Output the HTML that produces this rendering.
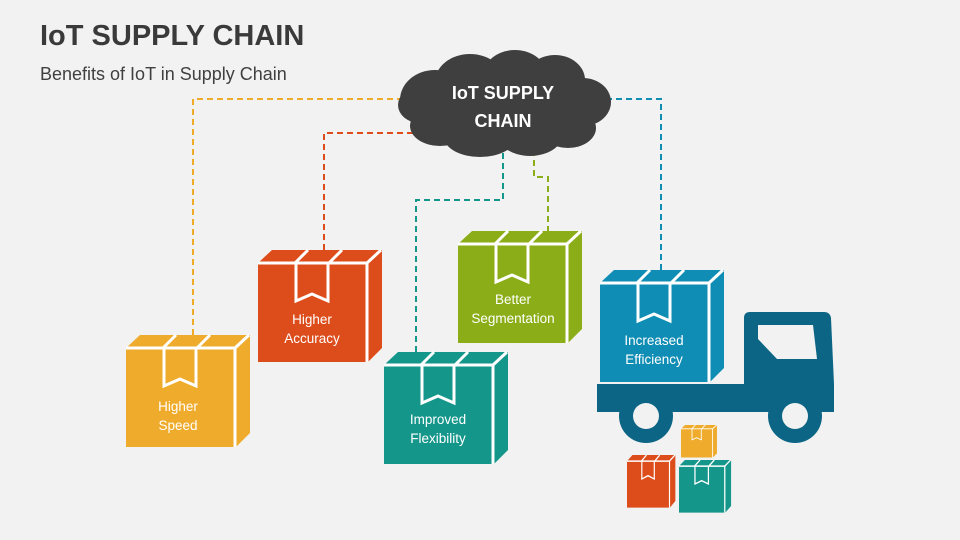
<!DOCTYPE html>
<html><head><meta charset="utf-8"><style>
body{margin:0;background:#f2f2f2;}
svg{display:block;}
.t{font-family:"Liberation Sans",sans-serif;}
</style></head><body>
<svg width="960" height="540" viewBox="0 0 960 540" xmlns="http://www.w3.org/2000/svg">
<defs>
<g id="box">
<polygon points="0,13 14,0 124,0 124,98 110,112 0,112"/>
<g fill="none" stroke="#fff" stroke-width="3">
<polyline points="0,13 109,13 109,112"/>
<line x1="109" y1="13" x2="123" y2="0"/>
<line x1="37" y1="13" x2="50" y2="0"/>
<line x1="71" y1="13" x2="84" y2="0"/>
<polyline points="38,13 38,51 54,44 70,51 70,13"/>
</g>
</g>
</defs>
<rect width="960" height="540" fill="#f2f2f2"/>
<text x="40" y="45" class="t" font-size="29" font-weight="bold" fill="#3a3a3a">IoT SUPPLY CHAIN</text>
<text x="40" y="80" class="t" font-size="18" fill="#404040">Benefits of IoT in Supply Chain</text>

<g fill="none" stroke-width="2" stroke-dasharray="6,4">
<polyline points="193,335 193,99 402,99" stroke="#efab2b"/>
<polyline points="324,250 324,133 425,133" stroke="#dd4d1b"/>
<polyline points="416,352 416,200 503,200 503,150" stroke="#15968b"/>
<polyline points="548,232 548,177 534,177 534,148" stroke="#8bad17"/>
<polyline points="661,270 661,99 606,99" stroke="#108db4"/>
</g>

<g fill="#3f3f3f">
<ellipse cx="435" cy="100" rx="35" ry="30"/>
<ellipse cx="470" cy="82" rx="35" ry="28"/>
<ellipse cx="515" cy="76" rx="32" ry="26"/>
<ellipse cx="555" cy="80" rx="30" ry="25"/>
<ellipse cx="583" cy="102" rx="28" ry="24"/>
<ellipse cx="568" cy="128" rx="28" ry="20"/>
<ellipse cx="530" cy="132" rx="34" ry="24"/>
<ellipse cx="480" cy="137" rx="36" ry="20"/>
<ellipse cx="440" cy="126" rx="30" ry="20"/>
<ellipse cx="420" cy="105" rx="22" ry="18"/>
<ellipse cx="500" cy="108" rx="80" ry="35"/>
</g>
<text x="503" y="99" class="t" text-anchor="middle" font-size="18" font-weight="bold" fill="#fff">IoT SUPPLY</text>
<text x="503" y="127" class="t" text-anchor="middle" font-size="18" font-weight="bold" fill="#fff">CHAIN</text>

<!-- truck -->
<g fill="#0c6585">
<rect x="597" y="384" width="237" height="28"/>
<path d="M744,318 Q744,312 750,312 L824,312 Q830,312 831,318 L834,384 L744,384 Z"/>
<circle cx="646" cy="416" r="27"/><circle cx="795" cy="416" r="27"/>
</g>
<polygon points="758,325 813,325 817,359 777,359 758,339" fill="#f2f2f2"/>
<circle cx="646" cy="416" r="13" fill="#f2f2f2"/><circle cx="795" cy="416" r="13" fill="#f2f2f2"/>

<use href="#box" transform="translate(126,335)" fill="#efab2b"/>
<use href="#box" transform="translate(258,250)" fill="#dd4d1b"/>
<use href="#box" transform="translate(384,352)" fill="#15968b"/>
<use href="#box" transform="translate(458,231)" fill="#8bad17"/>
<use href="#box" transform="translate(600,270)" fill="#108db4"/>
<use href="#box" transform="translate(681,425) scale(0.29)" fill="#efab2b"/>
<use href="#box" transform="translate(627,455) scale(0.39,0.47)" fill="#dd4d1b"/>
<use href="#box" transform="translate(679,460) scale(0.42,0.47)" fill="#15968b"/>

<g class="t" font-size="13.5" fill="#fff" text-anchor="middle">
<text x="178" y="411">Higher</text><text x="178" y="430">Speed</text>
<text x="312" y="324">Higher</text><text x="312" y="343">Accuracy</text>
<text x="438" y="424">Improved</text><text x="438" y="443">Flexibility</text>
<text x="513" y="304">Better</text><text x="513" y="323">Segmentation</text>
<text x="654" y="345">Increased</text><text x="654" y="364">Efficiency</text>
</g>
</svg>
</body></html>
